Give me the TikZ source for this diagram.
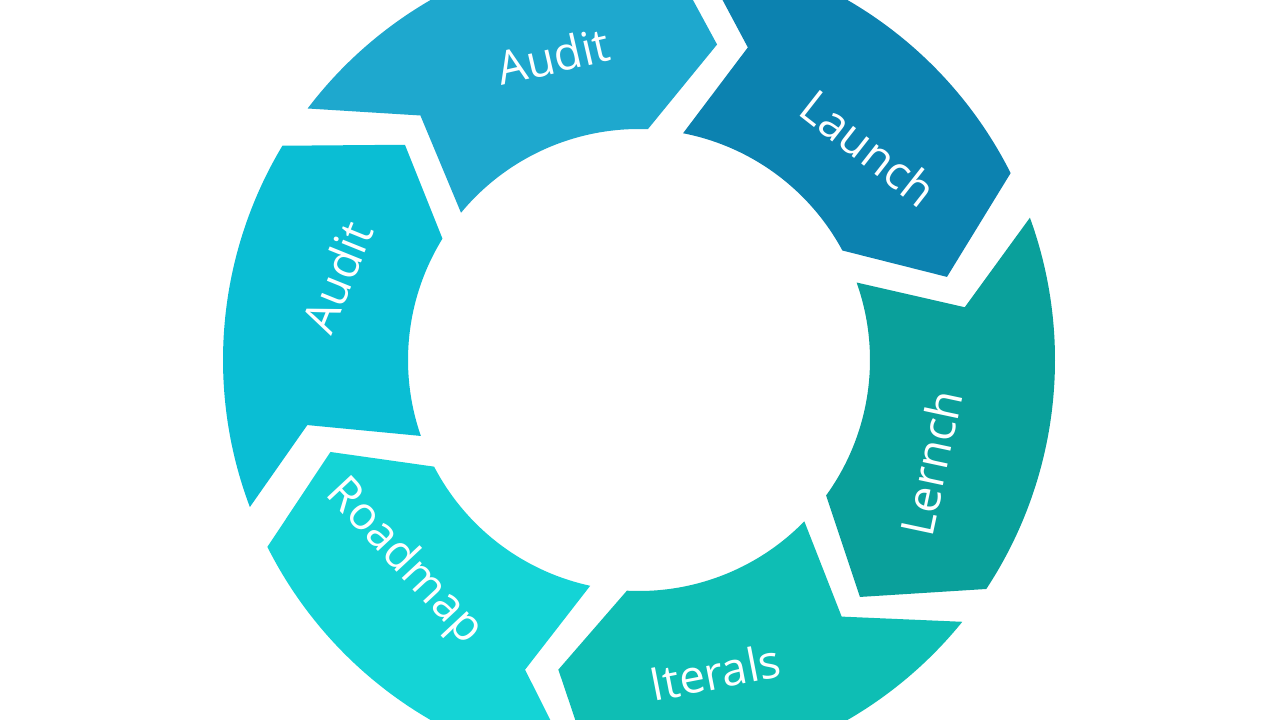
\documentclass[tikz,border=0pt]{standalone}
\usepackage{fontspec}
\setmainfont{Open Sans}
\definecolor{cA}{RGB}{30,168,206}
\definecolor{cB}{RGB}{12,130,176}
\definecolor{cC}{RGB}{10,160,155}
\definecolor{cD}{RGB}{14,190,180}
\definecolor{cE}{RGB}{20,212,214}
\definecolor{cF}{RGB}{10,190,212}
\newcommand{\Rout}{416}
\newcommand{\Rin}{231}
% #1 colour, #2 tail outer angle, #3 notch angle, #4 notch radius, #5 tail inner angle,
% #6 head outer angle, #7 tip angle, #8 tip radius, #9 head inner angle
\newcommand{\cycseg}[9]{%
  \fill[#1] (#2:\Rout) arc[start angle=#2, end angle=#6, radius=\Rout]
    -- (#7:#8) -- (#9:\Rin) arc[start angle=#9, end angle=#5, radius=\Rin]
    -- (#3:#4) -- cycle;}
\tikzset{lbl/.style={text=white, font=\fontsize{46}{52}\selectfont, inner sep=0pt}}
\begin{document}
\begin{tikzpicture}[x=1pt,y=1pt]
\path[use as bounding box] (0,0) rectangle (1280,720);
\clip (0,0) rectangle (1280,720);
\fill[white] (0,0) rectangle (1280,720);
\begin{scope}[shift={(639,360)}]
\cycseg{cA}{142.8}{131.8}{328}{140.4}{86.7}{76.1}{325}{87.8}
\cycseg{cB}{82.3}{70.8}{331}{79.0}{26.7}{15.1}{319}{28.3}
\cycseg{cC}{20.0}{9.2}{330}{19.6}{-33.4}{-47.0}{324}{-35.9}
\cycseg{cD}{-39.0}{-51.7}{327}{-44.3}{-96.3}{-104.6}{320}{-93.0}
\cycseg{cE}{-98.7}{-110.2}{330}{-102.2}{-153.3}{-163.4}{322}{-152.5}
\cycseg{cF}{200.7}{191.1}{338}{199.2}{149.0}{137.4}{318}{148.3}
\end{scope}
\node[lbl, rotate=13] (t1) at (553,664) {Audit};
\node[lbl, rotate=-38] (t2) at (869,572) {Launch};
\node[lbl, rotate=78] (t3) at (931,257) {Lernch};
\node[lbl, rotate=11] (t4) at (715,48) {Iterals};
\node[lbl, rotate=-47] (t5) at (404,158) {Roadmap};
\node[lbl, rotate=68] (t6) at (337,443) {Audit};
\end{tikzpicture}
\end{document}
